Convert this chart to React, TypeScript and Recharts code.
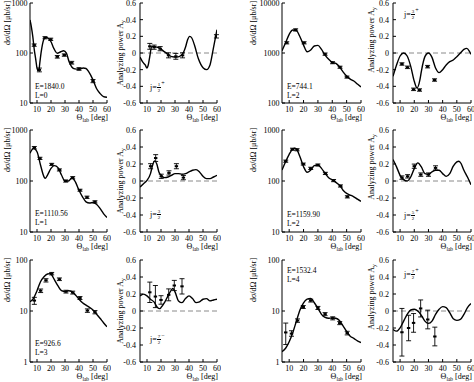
import React from 'react';
import { ComposedChart, Line, Scatter, XAxis, YAxis, ErrorBar, ReferenceLine } from 'recharts';

const FONT = '"Liberation Serif", "DejaVu Serif", serif';

const xTicks = [10, 20, 30, 40, 50, 60];
const apTicks = [-0.6, -0.4, -0.2, 0, 0.2, 0.4, 0.6];
const csTicks1 = [10, 100, 1000];
const csTicks2 = [100, 1000, 10000];
const csTicks3 = [1, 10, 100];

// Row 1 left: E=1840.0, L=0
const csA: number[][] = [[5,457],[6,330],[7,212],[8,120],[9,78],[10,50],[10.8,44],[11.5,48],[12,63],[13,105],[14.5,175],[15.7,202],[17,205],[17.9,197],[20,168],[22,124],[24.5,99],[27,106],[29,111],[31,99],[33,66],[35,52],[37,48],[40,47],[43,50],[45,49],[47,42],[50,29],[52.5,19.5],[55,15.6],[57.5,13.4],[60,13]];
const csAPts: number[][] = [[8,144,8],[11.7,46,4],[15.7,202,10],[19.8,188,10],[24.5,84,5],[29.5,91,5],[34.8,64,4],[40,48,3],[50,27.5,2]];
const apA: number[][] = [[5,-0.05],[7,-0.11],[8.6,-0.14],[10,-0.18],[10.8,-0.15],[11.7,-0.07],[13.4,0.076],[15,0.08],[17,0.07],[19.3,0.056],[22,0.02],[24,-0.004],[27.6,-0.044],[31.2,-0.05],[34.8,-0.024],[37.6,0.076],[39,0.16],[40.5,0.2],[42,0.18],[44,0.09],[46.6,-0.064],[50.2,-0.18],[52.6,-0.2],[55,-0.144],[57.4,0.056],[60,0.28]];
const apAPts: number[][] = [[12,0.08,0.035],[15.1,0.07,0.025],[19.4,0.052,0.025],[25.4,-0.028,0.03],[30.6,-0.04,0.035],[35.4,-0.028,0.03],[59.6,0.2,0.02]];

// Row 1 right: E=744.1, L=2
const csB: number[][] = [[5,1110],[7.5,1600],[10,2360],[12.5,2880],[15,2800],[17.5,2110],[20,1440],[22.5,1060],[25,1150],[27.5,1380],[30,1420],[32.5,1180],[35,910],[37.5,750],[40,650],[42.5,620],[45,530],[47.5,420],[50,345],[52.5,300],[55,275],[57.5,240],[60,210]];
const csBPts: number[][] = [[8.3,1600,80],[14.5,2900,150],[20.4,1600,80],[35,950,50],[40.2,640,30],[45.4,520,25],[50.2,330,16]];
const apB: number[][] = [[5,-0.28],[7.5,-0.144],[10,-0.036],[12.5,0],[15,-0.036],[17.5,-0.16],[20,-0.34],[22,-0.42],[24,-0.32],[25,-0.22],[27.5,-0.044],[30,0],[32.5,-0.052],[35,-0.18],[37.5,-0.236],[40,-0.2],[42.5,-0.144],[45,-0.104],[47.5,-0.084],[50,-0.044],[52.5,0],[55,0.044],[57,0.056],[59,0.016],[60,-0.016]];
const apBPts: number[][] = [[11.3,-0.132,0.015],[15.2,-0.172,0.015],[19.5,-0.436,0.015],[23.7,-0.444,0.015],[29.4,-0.164,0.015],[34.3,-0.324,0.015]];

// Row 2 left: E=1110.56, L=1
const csC: number[][] = [[5,349],[7.5,437],[10,375],[12.5,206],[15,121],[16,113],[17.5,131],[20,177],[22.5,200],[25,183],[27.5,131],[30,100],[32.5,100],[35,116],[37.5,95],[40,66],[42.5,49],[45,39],[47.5,37],[50,38],[52.5,35],[55,29],[57.5,23],[60,19.2]];
const csCPts: number[][] = [[8.1,450,25],[12.1,278,14],[20.5,212,10],[26,165,8],[30.5,100,5],[35.5,116,6],[40.7,66,3],[45.7,48,2.5],[51.4,39,2]];
const apC: number[][] = [[5,-0.071],[7.5,-0.032],[10,0.008],[12.5,0.087],[14,0.186],[15.5,0.237],[17,0.2],[18.5,0.107],[20,0.067],[22.5,0.04],[25,0.047],[27.5,0.067],[30,0.087],[32.5,0.087],[35,0.079],[37.5,0.087],[40,0.107],[42.5,0.126],[45,0.134],[47.5,0.107],[50,0.055],[52.5,0.028],[55,0.028],[57.5,0.047],[60,0.067]];
const apCPts: number[][] = [[12.6,0.174,0.03],[16.2,0.27,0.04],[20.2,0.055,0.025],[25.7,0.095,0.025],[31,0.174,0.03],[36,0.04,0.025]];

// Row 2 right: E=1159.90, L=2
const csD: number[][] = [[5,164],[7.5,239],[10,334],[12.5,424],[14,440],[15,424],[17.5,300],[20,191],[22.5,148],[25,164],[27.5,200],[30,206],[32.5,177],[35,141],[37.5,116],[40,105],[42.5,94],[45,83],[47.5,66],[50,57],[52.5,53],[55,49],[57.5,44],[60,40]];
const csDPts: number[][] = [[7.6,245,12],[12.3,420,20],[15.5,410,20],[19.8,215,10],[25,177,9],[30,206,10],[35.2,141,7],[40.9,102,5],[45.7,80,4],[50.5,49,2.5]];
const apD: number[][] = [[5,0.253],[7.5,0.166],[10,0.067],[12.5,0.016],[15,0],[17.5,0.047],[20,0.146],[22.5,0.213],[25,0.166],[27.5,0.087],[30,0.079],[32.5,0.107],[35,0.126],[37.5,0.126],[40,0.087],[42.5,0.055],[45,0.087],[47.5,0.174],[50,0.225],[51.5,0.233],[53,0.206],[55,0.126],[57.5,0.047],[60,-0.043]];
const apDPts: number[][] = [[11.3,0.04,0.02],[15.3,0.055,0.02],[20,0.174,0.025],[24.6,0.075,0.02],[30,0.075,0.02],[35,0.154,0.025]];

// Row 3 left: E=926.6, L=3
const csE: number[][] = [[5,15.2],[7.5,17.7],[10,25],[12.5,37.5],[15,47],[17.5,53.2],[19,54],[20,53],[22.5,40.6],[25,31],[27.5,25],[30,24],[32.5,25],[35,24],[37.5,20.6],[40,17],[42.5,14.5],[45,13],[47.5,11.8],[50,10.5],[52.5,8.7],[55,7.2],[57.5,5.9],[60,4.9]];
const csEPts: number[][] = [[8.1,16,2.5],[12.6,25,2],[16.4,40,3],[20.5,54,3],[26,42,2.5],[30.7,24,1.5],[35.5,23,1.5],[40.7,18,1.2],[46,10.2,0.8],[51.4,9.5,0.7]];
const apE: number[][] = [[5,0.178],[7.5,0.198],[10,0.178],[12.5,0.138],[15,0.107],[17.5,0.04],[19,0.028],[20,0.04],[22.5,0.099],[25,0.178],[27.5,0.249],[28.5,0.265],[30,0.225],[32.5,0.119],[35,0.099],[37.5,0.146],[40,0.178],[42.5,0.146],[45,0.099],[47.5,0.107],[50,0.138],[52.5,0.146],[55,0.119],[57.5,0.13],[60,0.138]];
const apEPts: number[][] = [[12,0.22,0.12],[16,0.17,0.13],[20,0.13,0.05],[25.5,0.19,0.07],[29.5,0.3,0.06],[35,0.29,0.09]];

// Row 3 right: E=1532.4, L=4
const csF: number[][] = [[5,1.59],[7.5,1.86],[10,2.5],[12.5,3.75],[15,6.3],[17.5,10.5],[20,14.5],[22.5,17],[25,17.7],[27.5,14.5],[30,11.3],[32.5,8.6],[35,7.5],[37.5,7.2],[40,7.3],[42.5,7.2],[45,6.5],[47.5,5.1],[50,3.96],[52.5,3.2],[55,2.9],[57.5,2.6],[60,2.4]];
const csFPts: number[][] = [[7.6,3.8,1.6,2.0],[11.6,3.6,0.4,0.5],[15.8,6.5,0.5,0.5],[19.8,12,0.8,0.8],[25,16,1,1],[30,11.5,0.8,0.8],[35,8.7,0.6,0.6],[40.3,7.2,0.5,0.5],[45.2,5.8,0.4,0.4],[50.4,3.7,0.3,0.3]];
const apF: number[][] = [[5,-0.217],[7.5,-0.237],[10,-0.198],[12.5,-0.119],[15,-0.04],[17.5,0.012],[20,0.02],[22.5,0],[25,-0.051],[27.5,-0.119],[30,-0.146],[32.5,-0.119],[35,-0.04],[37.5,0.02],[40,0.051],[42.5,0.04],[45,-0.02],[47.5,-0.091],[50,-0.11],[52.5,-0.099],[55,-0.04],[57.5,0.04],[60,0.087]];
const apFPts: number[][] = [[11.3,-0.25,0.28],[16,-0.2,0.15],[19.5,-0.14,0.11],[24.5,0.03,0.1],[29.5,-0.1,0.11],[34.5,-0.3,0.11]];

const Marker = (props: any) => {
  const { cx, cy } = props;
  if (cx == null || cy == null) return <g />;
  return <rect x={cx - 1.7} y={cy - 1} width={3.4} height={2} fill="#000" />;
};

const emptyTick = () => <g />;

type PanelProps = {
  left: number; top: number; w: number; h: number;
  kind: 'cs' | 'ap';
  domain: [number, number];
  ticks: number[];
  curve: number[][];
  pts: number[][];
};

function Panel({ left, top, w, h, kind, domain, ticks, curve, pts }: PanelProps) {
  const yw = 34, mt = 4, mr = 4, xh = 16;
  const width = yw + w + mr;
  const height = mt + h + xh;
  const curveData = curve.map(([x, y]) => ({ x, y }));
  const ptData = pts.map((p) => ({ x: p[0], y: p[1], err: p.length > 3 ? [p[2], p[3]] : [p[2], p[2]] }));
  const isLog = kind === 'cs';
  const tickStyle = { fontSize: 8, fontFamily: FONT, fill: '#000' };
  const fmt = (v: number) => (isLog ? String(v) : v === 0 ? '0' : v.toFixed(1));
  return (
    <div style={{ position: 'absolute', left: left - yw, top: top - mt }}>
      <ComposedChart width={width} height={height} margin={{ top: mt, right: mr, bottom: 0, left: 0 }}>
        <XAxis xAxisId="b" dataKey="x" type="number" domain={[5, 60]} ticks={xTicks} allowDataOverflow
          height={xh} tickSize={-3} tickMargin={6} tick={tickStyle} stroke="#000" interval={0} />
        <XAxis xAxisId="t" orientation="top" dataKey="x" type="number" domain={[5, 60]} ticks={xTicks} allowDataOverflow
          height={0} tickSize={-3} tick={emptyTick} stroke="#000" interval={0} />
        <YAxis yAxisId="l" type="number" scale={isLog ? 'log' : 'linear'} domain={domain} ticks={ticks} allowDataOverflow
          width={yw} tickSize={-3} tickMargin={isLog ? 5.5 : 7} tick={tickStyle} tickFormatter={fmt} stroke="#000" interval={0} />
        <YAxis yAxisId="r" orientation="right" type="number" scale={isLog ? 'log' : 'linear'} domain={domain} ticks={ticks} allowDataOverflow
          width={0} tickSize={-3} tick={emptyTick} stroke="#000" interval={0} />
        {!isLog && (
          <ReferenceLine xAxisId="b" yAxisId="l" y={0} stroke="#8a8a8a" strokeDasharray="5 3" strokeWidth={1} />
        )}
        <Line xAxisId="b" yAxisId="l" data={curveData} dataKey="y" type="monotone" stroke="#000" strokeWidth={1.4}
          dot={false} activeDot={false} isAnimationActive={false} />
        <Scatter xAxisId="b" yAxisId="l" data={ptData} dataKey="y" shape={Marker} isAnimationActive={false}>
          <ErrorBar dataKey="err" direction="y" width={2.5} stroke="#000" strokeWidth={0.9} />
        </Scatter>
      </ComposedChart>
    </div>
  );
}

const txt: React.CSSProperties = { position: 'absolute', fontFamily: FONT, color: '#000', whiteSpace: 'nowrap' };

function VTitle({ cx, cy, children, size = 8 }: { cx: number; cy: number; children: React.ReactNode; size?: number }) {
  return (
    <div style={{ ...txt, left: cx, top: cy, fontSize: size, lineHeight: 1, transform: 'translate(-50%, -50%) rotate(-90deg)' }}>
      {children}
    </div>
  );
}

function XTitle({ right, cy }: { right: number; cy: number }) {
  return (
    <div style={{ ...txt, left: right, top: cy, fontSize: 8, lineHeight: 1, transform: 'translate(-100%, -50%)' }}>
      Θ<sub style={{ fontSize: 5.5, verticalAlign: '-2px' }}>lab</sub> [deg]
    </div>
  );
}

function ELabel({ x, y, e, l }: { x: number; y: number; e: string; l: string }) {
  return (
    <div style={{ ...txt, left: x, top: y, fontSize: 7.5, lineHeight: '8.5px' }}>
      <div>E={e}</div>
      <div>L={l}</div>
    </div>
  );
}

function JLabel({ x, y, num, sign }: { x: number; y: number; num: string; sign: string }) {
  return (
    <div style={{ ...txt, left: x, top: y, fontSize: 8, lineHeight: 1, display: 'flex', alignItems: 'center', color: '#000' }}>
      <span style={{ color: '#000' }}>j=</span>
      <span style={{ display: 'inline-flex', flexDirection: 'column', alignItems: 'center', fontSize: 5, lineHeight: '5px', margin: '0 0.5px', color: '#000' }}>
        <span style={{ borderBottom: '0.6px solid #000', padding: '0 0.5px' }}>{num}</span>
        <span>2</span>
      </span>
      <span style={{ fontSize: 6, alignSelf: 'flex-start', marginTop: -2, color: '#000' }}>{sign}</span>
    </div>
  );
}

const CS_TITLE = 'dσ/dΩ [μb/sr]';
const AP_TITLE = (
  <span>Analyzing power A<sub style={{ fontSize: 5.5, verticalAlign: '-2px' }}>y</sub></span>
);

const cols = {
  csL: { left: 30, w: 77 },
  apL: { left: 140, w: 77 },
  csR: { left: 282, w: 79 },
  apR: { left: 393, w: 78 },
};
const rows = [
  { top: 3, h: 100 },
  { top: 130, h: 102 },
  { top: 260, h: 102 },
];

export default function App() {
  const panels = [
    { c: cols.csL, r: rows[0], kind: 'cs', domain: [10, 1000], ticks: csTicks1, curve: csA, pts: csAPts },
    { c: cols.apL, r: rows[0], kind: 'ap', domain: [-0.6, 0.6], ticks: apTicks, curve: apA, pts: apAPts },
    { c: cols.csR, r: rows[0], kind: 'cs', domain: [100, 10000], ticks: csTicks2, curve: csB, pts: csBPts },
    { c: cols.apR, r: rows[0], kind: 'ap', domain: [-0.6, 0.6], ticks: apTicks, curve: apB, pts: apBPts },
    { c: cols.csL, r: rows[1], kind: 'cs', domain: [10, 1000], ticks: csTicks1, curve: csC, pts: csCPts },
    { c: cols.apL, r: rows[1], kind: 'ap', domain: [-0.6, 0.6], ticks: apTicks, curve: apC, pts: apCPts },
    { c: cols.csR, r: rows[1], kind: 'cs', domain: [10, 1000], ticks: csTicks1, curve: csD, pts: csDPts },
    { c: cols.apR, r: rows[1], kind: 'ap', domain: [-0.6, 0.6], ticks: apTicks, curve: apD, pts: apDPts },
    { c: cols.csL, r: rows[2], kind: 'cs', domain: [1, 100], ticks: csTicks3, curve: csE, pts: csEPts },
    { c: cols.apL, r: rows[2], kind: 'ap', domain: [-0.6, 0.6], ticks: apTicks, curve: apE, pts: apEPts },
    { c: cols.csR, r: rows[2], kind: 'cs', domain: [1, 100], ticks: csTicks3, curve: csF, pts: csFPts },
    { c: cols.apR, r: rows[2], kind: 'ap', domain: [-0.6, 0.6], ticks: apTicks, curve: apF, pts: apFPts },
  ];
  return (
    <div style={{ position: 'absolute', left: 0, top: 0, width: 474, height: 382, background: '#fff', overflow: 'hidden' }}>
      {panels.map((p, i) => (
        <Panel key={i} left={p.c.left} top={p.r.top} w={p.c.w} h={p.r.h} kind={p.kind as any}
          domain={p.domain as [number, number]} ticks={p.ticks} curve={p.curve} pts={p.pts} />
      ))}
      {rows.map((r, i) => (
        <React.Fragment key={'t' + i}>
          <VTitle cx={8} cy={r.top + 20}>{CS_TITLE}</VTitle>
          <VTitle cx={254} cy={r.top + 20}>{CS_TITLE}</VTitle>
          <VTitle cx={122} cy={r.top + r.h / 2}>{AP_TITLE}</VTitle>
          <VTitle cx={373} cy={r.top + 37}>{AP_TITLE}</VTitle>
          <XTitle right={cols.csL.left + cols.csL.w + 1} cy={r.top + r.h + 16} />
          <XTitle right={cols.apL.left + cols.apL.w + 1} cy={r.top + r.h + 16} />
          <XTitle right={cols.csR.left + cols.csR.w + 1} cy={r.top + r.h + 16} />
          <XTitle right={cols.apR.left + cols.apR.w + 1} cy={r.top + r.h + 16} />
        </React.Fragment>
      ))}
      <ELabel x={35} y={83} e="1840.0" l="0" />
      <JLabel x={150} y={82} num="1" sign="+" />
      <ELabel x={287} y={83} e="744.1" l="2" />
      <JLabel x={404} y={9} num="3" sign="+" />
      <ELabel x={35} y={210} e="1110.56" l="1" />
      <JLabel x={150} y={209} num="3" sign="" />
      <ELabel x={287} y={211} e="1159.90" l="2" />
      <JLabel x={404} y={210} num="5" sign="+" />
      <ELabel x={35} y={340} e="926.6" l="3" />
      <JLabel x={150} y={334} num="7" sign="−" />
      <ELabel x={287} y={267} e="1532.4" l="4" />
      <JLabel x={404} y={269} num="7" sign="+" />
    </div>
  );
}
